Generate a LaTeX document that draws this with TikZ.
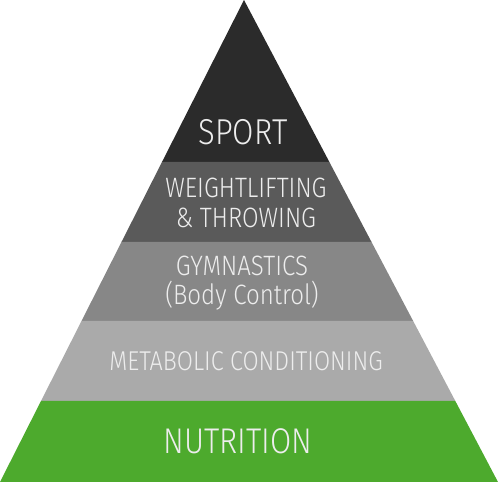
\documentclass[tikz,border=0pt]{standalone}
\usepackage{fontspec}
\setmainfont{Fira Sans Light}[FakeStretch=0.86]
\usetikzlibrary{calc}

\definecolor{sportgray}{HTML}{2B2B2B}
\definecolor{liftgray}{HTML}{5A5A5A}
\definecolor{gymgray}{HTML}{878787}
\definecolor{metcongray}{HTML}{AAAAAA}
\definecolor{nutrigreen}{HTML}{4DAA2D}
\definecolor{labeltext}{HTML}{EDEDED}

\begin{document}
\begin{tikzpicture}[
    x=0.75pt, y=-0.75pt,
    layertext/.style={text=labeltext, align=center, inner sep=0pt}
]
\useasboundingbox (0,0) rectangle (500,484);

\coordinate (apex) at (244,0);
\coordinate (bl) at (0,482);
\coordinate (br) at (498,482);

% pyramid layers, from the top down
\foreach \ya/\yb/\col in {0/162/sportgray, 162/242/liftgray, 242/321/gymgray,
                          321/401/metcongray, 401/482/nutrigreen}{
  \fill[\col] ($(apex)!\ya/482!(bl)$) -- ($(apex)!\yb/482!(bl)$)
      -- ($(apex)!\yb/482!(br)$) -- ($(apex)!\ya/482!(br)$) -- cycle;
}

\node[layertext, font=\fontsize{27}{30}\selectfont] (sport) at (243,132) {SPORT};
\node[layertext, font=\fontsize{21}{22}\selectfont] (lifting) at (246,203)
    {WEIGHTLIFTING\\\& THROWING};
\node[layertext, font=\fontsize{21}{22}\selectfont] (gym) at (242,283)
    {GYMNASTICS\\(Body Control)};
\node[layertext, font=\fontsize{20.4}{22}\selectfont] (metcon) at (246,361)
    {METABOLIC CONDITIONING};
\node[layertext, font=\fontsize{26.8}{30}\selectfont] (nutrition) at (238,441)
    {NUTRITION};
\end{tikzpicture}
\end{document}
